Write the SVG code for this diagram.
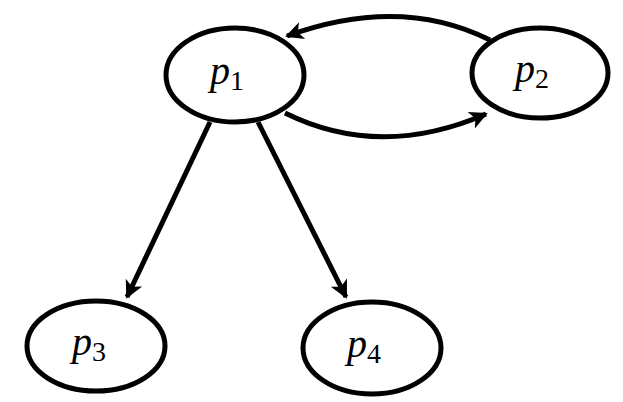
<svg xmlns="http://www.w3.org/2000/svg" width="623" height="402" viewBox="0 0 623 402">
<style>
.n{fill:#fff;stroke:#000;stroke-width:5}
.e{fill:none;stroke:#000;stroke-width:5}
.t{font-family:"Liberation Serif",serif;font-style:italic;font-size:40px}
.s{font-family:"Liberation Serif",serif;font-size:28px;font-style:normal}
</style>
<defs>
<marker id="a" viewBox="0 0 10 10" refX="8" refY="5" markerWidth="5" markerHeight="5" orient="auto" markerUnits="userSpaceOnUse" style="overflow:visible">
<path d="M-2,-1 L10,5 L-2,11 L1,5 Z" fill="#000" transform="scale(3) translate(-6,-3.4)"/>
</marker>
</defs>
<rect width="623" height="402" fill="#fff"/>
<g id="edges">
<path class="e" d="M210,122 L127,297" marker-end="url(#a)"/>
<path class="e" d="M258,122 L346,297" marker-end="url(#a)"/>
<path class="e" d="M285,113 Q380,160 486,114" marker-end="url(#a)"/>
<path class="e" d="M490,40 Q400,-5 287,36" marker-end="url(#a)"/>
</g>
<g id="p1"><ellipse class="n" cx="235" cy="75" rx="69" ry="47"/><text class="t" x="210" y="84">p<tspan class="s" dy="6">1</tspan></text></g>
<g id="p2"><ellipse class="n" cx="540" cy="73" rx="68" ry="45"/><text class="t" x="515" y="82">p<tspan class="s" dy="6">2</tspan></text></g>
<g id="p3"><ellipse class="n" cx="96" cy="346" rx="69" ry="45"/><text class="t" x="72" y="355">p<tspan class="s" dy="6">3</tspan></text></g>
<g id="p4"><ellipse class="n" cx="372" cy="348" rx="69" ry="46"/><text class="t" x="347" y="357">p<tspan class="s" dy="6">4</tspan></text></g>
</svg>
